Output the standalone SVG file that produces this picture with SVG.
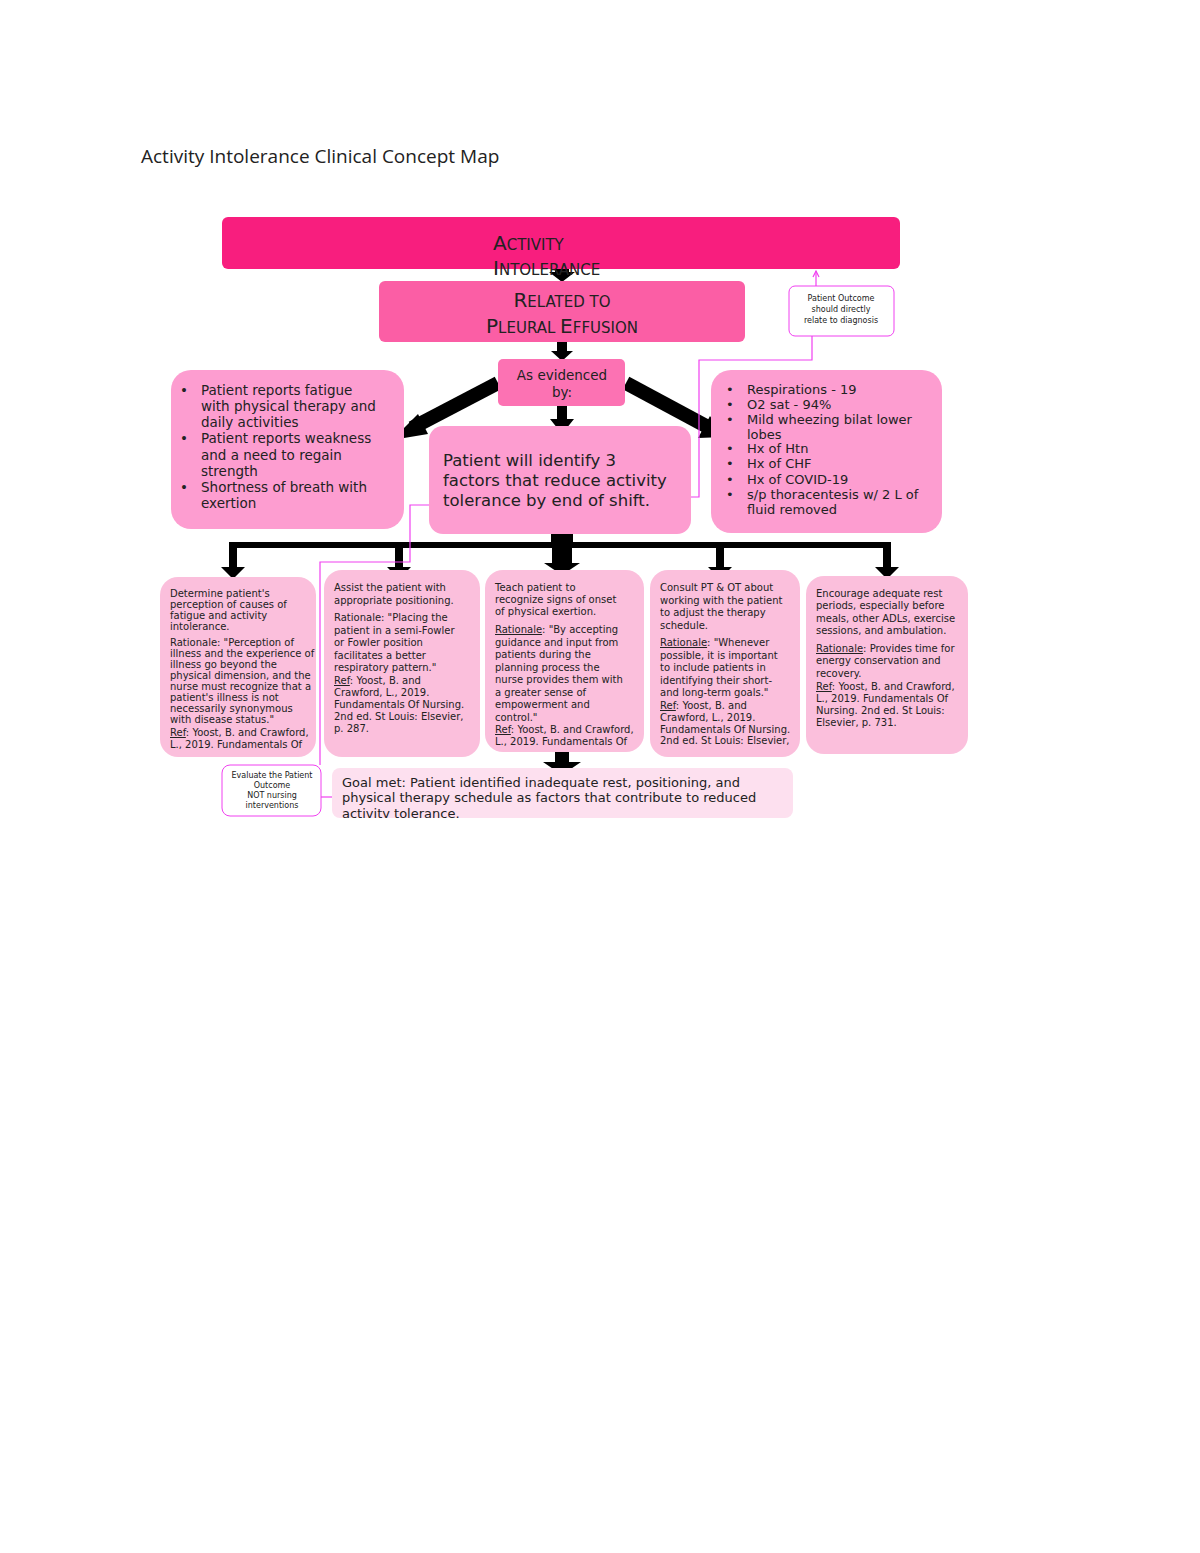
<svg xmlns="http://www.w3.org/2000/svg" width="1200" height="1553" viewBox="0 0 1200 1553">
<style>
text{font-family:"DejaVu Sans",sans-serif;fill:#222}
.sm{font-size:10px}
.md{font-size:13.5px}
.sc{font-size:20px}
.tiny{font-size:8px;text-anchor:middle}
.k{fill:#000;stroke:none}
.mg{fill:none;stroke:#f040f0;stroke-width:1.2}
.ib{fill:#fbbfdc}
</style>
<defs>
<marker id="ma" markerWidth="8" markerHeight="8" refX="7" refY="4" orient="auto" markerUnits="userSpaceOnUse"><path d="M1,1 L7,4 L1,7" fill="none" stroke="#f040f0" stroke-width="1.2"/></marker>
<clipPath id="c1"><rect x="160" y="577" width="156" height="172"/></clipPath>
<clipPath id="c3"><rect x="485" y="570" width="159" height="178"/></clipPath>
<clipPath id="c4"><rect x="650" y="570" width="150" height="176"/></clipPath>
<clipPath id="cg"><rect x="332" y="768" width="461" height="50"/></clipPath>
</defs>
<text x="141" y="163" style="font-family:'Open Sans',sans-serif;font-size:19px">Activity Intolerance Clinical Concept Map</text>

<g id="connectors">
<path class="k" d="M555,268 h14 v4 h6 l-13,10 l-13,-10 h6z"/>
<path class="k" d="M557,342 h10 v9 h6 l-11,10 l-11,-10 h6z"/>
<path class="k" d="M557,406 h10 v13 h7 l-12,15 l-12,-15 h7z"/>
<path d="M498,383 L412,428" stroke="#000" stroke-width="14"/>
<path class="k" d="M392,440 L418,414 L428,434z"/>
<path d="M626,383 L706,426" stroke="#000" stroke-width="14"/>
<path class="k" d="M725,437 L698,438 L710,416z"/>
<rect class="k" x="551" y="534" width="22" height="14"/>
<rect class="k" x="229" y="542" width="662" height="6"/>
<path class="k" d="M229,545 h8 v22 h8 l-12,12 l-12,-12 h8z"/>
<path class="k" d="M395,545 h8 v22 h8 l-12,12 l-12,-12 h8z"/>
<path class="k" d="M552,545 h20 v18 h8 l-18,12 l-18,-12 h8z"/>
<path class="k" d="M716,545 h8 v22 h8 l-12,12 l-12,-12 h8z"/>
<path class="k" d="M883,545 h8 v22 h8 l-12,12 l-12,-12 h8z"/>
<path class="k" d="M555,752 h14 v10 h12 l-19,13 l-19,-13 h12z"/>
<path class="mg" d="M812,336 V360 H699 V497 H691"/>
<path class="mg" d="M816,286 V271" marker-end="url(#ma)"/>
<path class="mg" d="M320,765 V562 H410 V505 H436" marker-end="url(#ma)"/>
<path class="mg" d="M321,797 H332"/>
</g>

<g id="n-top"><rect x="222" y="217" width="678" height="52" rx="6" fill="#f81e7e"/>
<text class="sc" x="493" y="250">A<tspan font-size="15">CTIVITY</tspan></text>
<text class="sc" x="493" y="275">I<tspan font-size="15">NTOLERANCE</tspan></text></g>

<g id="n-related"><rect x="379" y="281" width="366" height="61" rx="6" fill="#fb5ea5"/>
<text class="sc" x="562" y="307" text-anchor="middle">R<tspan font-size="15">ELATED TO</tspan></text>
<text class="sc" x="562" y="333" text-anchor="middle">P<tspan font-size="15">LEURAL </tspan>E<tspan font-size="15">FFUSION</tspan></text></g>

<g id="n-aeb"><rect x="498" y="359" width="127" height="47" rx="5" fill="#fc72b3"/>
<text class="md" x="562" y="380" text-anchor="middle">As evidenced</text>
<text class="md" x="562" y="397" text-anchor="middle">by:</text></g>

<g id="n-subjective"><rect x="171" y="370" width="233" height="159" rx="20" fill="#fd9dd0"/>
<text class="md"><tspan x="180" y="395">•</tspan><tspan x="201" y="395">Patient reports fatigue</tspan>
<tspan x="201" y="411">with physical therapy and</tspan><tspan x="201" y="427">daily activities</tspan>
<tspan x="180" y="443">•</tspan><tspan x="201" y="443">Patient reports weakness</tspan>
<tspan x="201" y="460">and a need to regain</tspan><tspan x="201" y="476">strength</tspan>
<tspan x="180" y="492">•</tspan><tspan x="201" y="492">Shortness of breath with</tspan>
<tspan x="201" y="508">exertion</tspan></text></g>

<g id="n-outcome"><rect x="429" y="426" width="262" height="108" rx="14" fill="#fd9dd0"/>
<text style="font-size:16.5px"><tspan x="443" y="466">Patient will identify 3</tspan><tspan x="443" y="486">factors that reduce activity</tspan><tspan x="443" y="506">tolerance by end of shift.</tspan></text></g>

<g id="n-objective"><rect x="711" y="370" width="231" height="163" rx="20" fill="#fd9dd0"/>
<text class="md" style="font-size:13px"><tspan x="726" y="394">•</tspan><tspan x="747" y="394">Respirations - 19</tspan>
<tspan x="726" y="409">•</tspan><tspan x="747" y="409">O2 sat - 94%</tspan>
<tspan x="726" y="424">•</tspan><tspan x="747" y="424">Mild wheezing bilat lower</tspan>
<tspan x="747" y="439">lobes</tspan>
<tspan x="726" y="453">•</tspan><tspan x="747" y="453">Hx of Htn</tspan>
<tspan x="726" y="468">•</tspan><tspan x="747" y="468">Hx of CHF</tspan>
<tspan x="726" y="484">•</tspan><tspan x="747" y="484">Hx of COVID-19</tspan>
<tspan x="726" y="499">•</tspan><tspan x="747" y="499">s/p thoracentesis w/ 2 L of</tspan>
<tspan x="747" y="514">fluid removed</tspan></text></g>

<g id="n-note1"><rect x="789" y="286" width="105" height="50" rx="6" fill="#fff" stroke="#f040f0"/>
<text class="tiny" x="841" y="301">Patient Outcome</text><text class="tiny" x="841" y="312">should directly</text><text class="tiny" x="841" y="323">relate to diagnosis</text></g>

<g id="n-i1"><rect class="ib" x="160" y="577" width="156" height="180" rx="18"/>
<text class="sm" clip-path="url(#c1)"><tspan x="170" y="597">Determine patient's</tspan><tspan x="170" y="608">perception of causes of</tspan><tspan x="170" y="619">fatigue and activity</tspan><tspan x="170" y="630">intolerance.</tspan>
<tspan x="170" y="646">Rationale: "Perception of</tspan><tspan x="170" y="657">illness and the experience of</tspan><tspan x="170" y="668">illness go beyond the</tspan><tspan x="170" y="679">physical dimension, and the</tspan><tspan x="170" y="690">nurse must recognize that a</tspan><tspan x="170" y="701">patient's illness is not</tspan><tspan x="170" y="712">necessarily synonymous</tspan><tspan x="170" y="723">with disease status."</tspan><tspan x="170" y="736" text-decoration="underline">Ref</tspan><tspan>: Yoost, B. and Crawford,</tspan><tspan x="170" y="748">L., 2019. Fundamentals Of</tspan></text></g>

<g id="n-i2"><rect class="ib" x="324" y="570" width="156" height="187" rx="18"/>
<text class="sm"><tspan x="334" y="591">Assist the patient with</tspan><tspan x="334" y="604">appropriate positioning.</tspan>
<tspan x="334" y="621">Rationale: "Placing the</tspan><tspan x="334" y="634">patient in a semi-Fowler</tspan><tspan x="334" y="646">or Fowler position</tspan><tspan x="334" y="659">facilitates a better</tspan><tspan x="334" y="671">respiratory pattern."</tspan><tspan x="334" y="684" text-decoration="underline">Ref</tspan><tspan>: Yoost, B. and</tspan><tspan x="334" y="696">Crawford, L., 2019.</tspan><tspan x="334" y="708">Fundamentals Of Nursing.</tspan><tspan x="334" y="720">2nd ed. St Louis: Elsevier,</tspan><tspan x="334" y="732">p. 287.</tspan></text></g>

<g id="n-i3"><rect class="ib" x="485" y="570" width="159" height="182" rx="18"/>
<text class="sm" clip-path="url(#c3)"><tspan x="495" y="591">Teach patient to</tspan><tspan x="495" y="603">recognize signs of onset</tspan><tspan x="495" y="615">of physical exertion.</tspan>
<tspan x="495" y="633" text-decoration="underline">Rationale</tspan><tspan>: "By accepting</tspan><tspan x="495" y="646">guidance and input from</tspan><tspan x="495" y="658">patients during the</tspan><tspan x="495" y="671">planning process the</tspan><tspan x="495" y="683">nurse provides them with</tspan><tspan x="495" y="696">a greater sense of</tspan><tspan x="495" y="708">empowerment and</tspan><tspan x="495" y="721">control."</tspan><tspan x="495" y="733" text-decoration="underline">Ref</tspan><tspan>: Yoost, B. and Crawford,</tspan><tspan x="495" y="745">L., 2019. Fundamentals Of</tspan></text></g>

<g id="n-i4"><rect class="ib" x="650" y="570" width="150" height="187" rx="18"/>
<text class="sm" clip-path="url(#c4)"><tspan x="660" y="591">Consult PT &amp; OT about</tspan><tspan x="660" y="604">working with the patient</tspan><tspan x="660" y="616">to adjust the therapy</tspan><tspan x="660" y="629">schedule.</tspan>
<tspan x="660" y="646" text-decoration="underline">Rationale</tspan><tspan>: "Whenever</tspan><tspan x="660" y="659">possible, it is important</tspan><tspan x="660" y="671">to include patients in</tspan><tspan x="660" y="684">identifying their short-</tspan><tspan x="660" y="696">and long-term goals."</tspan><tspan x="660" y="709" text-decoration="underline">Ref</tspan><tspan>: Yoost, B. and</tspan><tspan x="660" y="721">Crawford, L., 2019.</tspan><tspan x="660" y="733">Fundamentals Of Nursing.</tspan><tspan x="660" y="744">2nd ed. St Louis: Elsevier,</tspan></text></g>

<g id="n-i5"><rect class="ib" x="806" y="576" width="162" height="178" rx="18"/>
<text class="sm"><tspan x="816" y="597">Encourage adequate rest</tspan><tspan x="816" y="609">periods, especially before</tspan><tspan x="816" y="622">meals, other ADLs, exercise</tspan><tspan x="816" y="634">sessions, and ambulation.</tspan>
<tspan x="816" y="652" text-decoration="underline">Rationale</tspan><tspan>: Provides time for</tspan><tspan x="816" y="664">energy conservation and</tspan><tspan x="816" y="677">recovery.</tspan><tspan x="816" y="690" text-decoration="underline">Ref</tspan><tspan>: Yoost, B. and Crawford,</tspan><tspan x="816" y="702">L., 2019. Fundamentals Of</tspan><tspan x="816" y="714">Nursing. 2nd ed. St Louis:</tspan><tspan x="816" y="726">Elsevier, p. 731.</tspan></text></g>

<g id="n-eval"><rect x="222" y="765" width="99" height="51" rx="8" fill="#fff" stroke="#f040f0"/>
<text class="tiny" x="272" y="778">Evaluate the Patient</text><text class="tiny" x="272" y="788">Outcome</text><text class="tiny" x="272" y="798">NOT nursing</text><text class="tiny" x="272" y="808">interventions</text></g>

<g id="n-goalmet"><rect x="332" y="768" width="461" height="50" rx="8" fill="#fde0ef"/>
<text style="font-size:13px" clip-path="url(#cg)"><tspan x="342" y="787">Goal met: Patient identified inadequate rest, positioning, and</tspan><tspan x="342" y="802">physical therapy schedule as factors that contribute to reduced</tspan><tspan x="342" y="818">activity tolerance.</tspan></text></g>
</svg>
